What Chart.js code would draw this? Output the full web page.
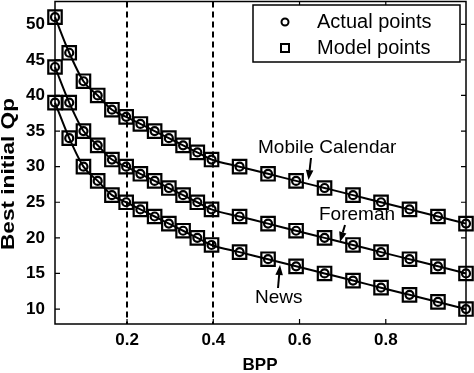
<!DOCTYPE html>
<html>
<head>
<meta charset="utf-8">
<script src="https://cdn.jsdelivr.net/npm/chart.js@4/dist/chart.umd.min.js"></script>
<style>
  html, body { margin: 0; padding: 0; background: #fff; }
</style>
</head>
<body>
<canvas id="chart" width="474" height="373"></canvas>
<script>
// bits per pixel values (x)
const bpp = [0.033, 0.066, 0.099, 0.132, 0.165, 0.198, 0.231, 0.264, 0.297, 0.330, 0.363, 0.396,
             0.461, 0.527, 0.592, 0.658, 0.724, 0.789, 0.855, 0.921, 0.986];

// best initial Qp for each sequence
const mobileCalendar = [51, 46, 42, 40, 38, 37, 36, 35, 34, 33, 32, 31, 30, 29, 28, 27, 26, 25, 24, 23, 22];
const foreman = [44, 39, 35, 33, 31, 30, 29, 28, 27, 26, 25, 24, 23, 22, 21, 20, 19, 18, 17, 16, 15];
const news = [39, 34, 30, 28, 26, 25, 24, 23, 22, 21, 20, 19, 18, 17, 16, 15, 14, 13, 12, 11, 10];

const xTicks = [0.2, 0.4, 0.6, 0.8];
const yTicks = [10, 15, 20, 25, 30, 35, 40, 45, 50];
const dashedAt = [0.2, 0.4];

const FONT = "'Liberation Sans', Arial, sans-serif";

function pts(ys) {
  return ys.map((y, i) => ({ x: bpp[i], y: y }));
}

function actualSet(ys) {
  return {
    label: 'Actual points',
    data: pts(ys),
    showLine: false,
    pointStyle: 'circle',
    pointRadius: 4,
    pointBorderWidth: 2.2,
    pointBorderColor: '#000',
    pointBackgroundColor: 'rgba(0,0,0,0)',
    clip: false
  };
}

function modelSet(ys) {
  return {
    label: 'Model points',
    data: pts(ys),
    showLine: true,
    borderColor: '#000',
    borderWidth: 2,
    cubicInterpolationMode: 'monotone',
    pointStyle: 'rect',
    pointRadius: 9.5,
    pointBorderWidth: 2.2,
    pointBorderColor: '#000',
    pointBackgroundColor: 'rgba(0,0,0,0)',
    clip: false
  };
}

function arrow(ctx, x1, y1, x2, y2) {
  const a = Math.atan2(y2 - y1, x2 - x1);
  const hl = 10, hw = 3.8;
  const bx = x2 - hl * Math.cos(a), by = y2 - hl * Math.sin(a);
  ctx.beginPath();
  ctx.moveTo(x1, y1);
  ctx.lineTo(bx, by);
  ctx.lineWidth = 2;
  ctx.stroke();
  ctx.beginPath();
  ctx.moveTo(x2, y2);
  ctx.lineTo(bx + hw * Math.sin(a), by - hw * Math.cos(a));
  ctx.lineTo(bx - hw * Math.sin(a), by + hw * Math.cos(a));
  ctx.closePath();
  ctx.fill();
}

// dashed lines, box, inward ticks, legend and labels
const decor = {
  id: 'decor',
  beforeDatasetsDraw(chart) {
    const ctx = chart.ctx, a = chart.chartArea, xs = chart.scales.x;
    ctx.save();
    ctx.strokeStyle = '#000';
    ctx.lineWidth = 2;
    ctx.setLineDash([6, 4]);
    dashedAt.forEach(v => {
      const px = Math.round(xs.getPixelForValue(v));
      ctx.beginPath();
      ctx.moveTo(px, a.top);
      ctx.lineTo(px, a.bottom);
      ctx.stroke();
    });
    ctx.restore();
  },
  afterDraw(chart) {
    const ctx = chart.ctx, a = chart.chartArea;
    const xs = chart.scales.x, ys = chart.scales.y;
    ctx.save();
    ctx.strokeStyle = '#000';
    ctx.fillStyle = '#000';
    ctx.lineWidth = 1.5;
    ctx.strokeRect(a.left, a.top, a.right - a.left, a.bottom - a.top);

    // ticks pointing in
    const tl = 5;
    ctx.lineWidth = 1.2;
    ctx.beginPath();
    yTicks.forEach(v => {
      const py = ys.getPixelForValue(v);
      ctx.moveTo(a.left, py); ctx.lineTo(a.left + tl, py);
      ctx.moveTo(a.right, py); ctx.lineTo(a.right - tl, py);
    });
    xTicks.forEach(v => {
      const px = xs.getPixelForValue(v);
      ctx.moveTo(px, a.bottom); ctx.lineTo(px, a.bottom - tl);
      ctx.moveTo(px, a.top); ctx.lineTo(px, a.top + tl);
    });
    ctx.stroke();

    // legend box
    ctx.fillStyle = '#fff';
    ctx.fillRect(253, 5, 207, 57);
    ctx.lineWidth = 1.5;
    ctx.strokeRect(253, 5, 207, 57);
    ctx.lineWidth = 2;
    ctx.beginPath();
    ctx.arc(285, 22, 3.5, 0, Math.PI * 2);
    ctx.stroke();
    ctx.strokeRect(281, 44, 8, 8);
    ctx.fillStyle = '#000';
    ctx.font = '20px ' + FONT;
    ctx.textBaseline = 'middle';
    ctx.textAlign = 'left';
    ctx.fillText('Actual points', 317, 22);
    ctx.fillText('Model points', 317, 48);

    // sequence names with arrows
    ctx.font = '19px ' + FONT;
    ctx.fillText('Mobile Calendar', 258, 148);
    ctx.fillText('Foreman', 319, 215);
    ctx.fillText('News', 255, 298);
    arrow(ctx, 311, 158, 308.5, 180);
    arrow(ctx, 345, 225, 340, 242);
    arrow(ctx, 278, 288, 280, 265);

    // axis titles
    ctx.font = 'bold 17px ' + FONT;
    ctx.textAlign = 'center';
    ctx.fillText('BPP', 260, 365);
    ctx.translate(9, 174);
    ctx.rotate(-Math.PI / 2);
    ctx.font = 'bold 18px ' + FONT;
    const w = ctx.measureText('Best initial Qp').width;
    ctx.scale(152 / w, 1);
    ctx.fillText('Best initial Qp', 0, 0);
    ctx.restore();
  }
};

new Chart(document.getElementById('chart'), {
  type: 'scatter',
  data: {
    datasets: [
      actualSet(mobileCalendar), actualSet(foreman), actualSet(news),
      modelSet(mobileCalendar), modelSet(foreman), modelSet(news)
    ]
  },
  options: {
    responsive: false,
    devicePixelRatio: 1,
    animation: false,
    layout: { autoPadding: false, padding: { top: 1.5, right: 8, left: 0, bottom: 0 } },
    plugins: { legend: { display: false }, tooltip: { enabled: false } },
    scales: {
      x: {
        type: 'linear',
        min: 0.033,
        max: 0.986,
        grid: { display: false, drawTicks: false },
        border: { display: false },
        afterBuildTicks: s => { s.ticks = xTicks.map(v => ({ value: v })); },
        afterFit: s => { s.height = 49; s.paddingLeft = 0; s.paddingRight = 0; },
        ticks: {
          color: '#000',
          padding: 6,
          font: { family: FONT, size: 17, weight: 'bold' },
          callback: v => v.toFixed(1)
        }
      },
      y: {
        min: 7.9,
        max: 53.2,
        grid: { display: false, drawTicks: false },
        border: { display: false },
        afterBuildTicks: s => { s.ticks = yTicks.map(v => ({ value: v })); },
        afterFit: s => { s.width = 55; s.paddingTop = 0; s.paddingBottom = 0; },
        ticks: {
          color: '#000',
          padding: 10,
          font: { family: FONT, size: 17, weight: 'bold' }
        }
      }
    }
  },
  plugins: [decor]
});
</script>
</body>
</html>
